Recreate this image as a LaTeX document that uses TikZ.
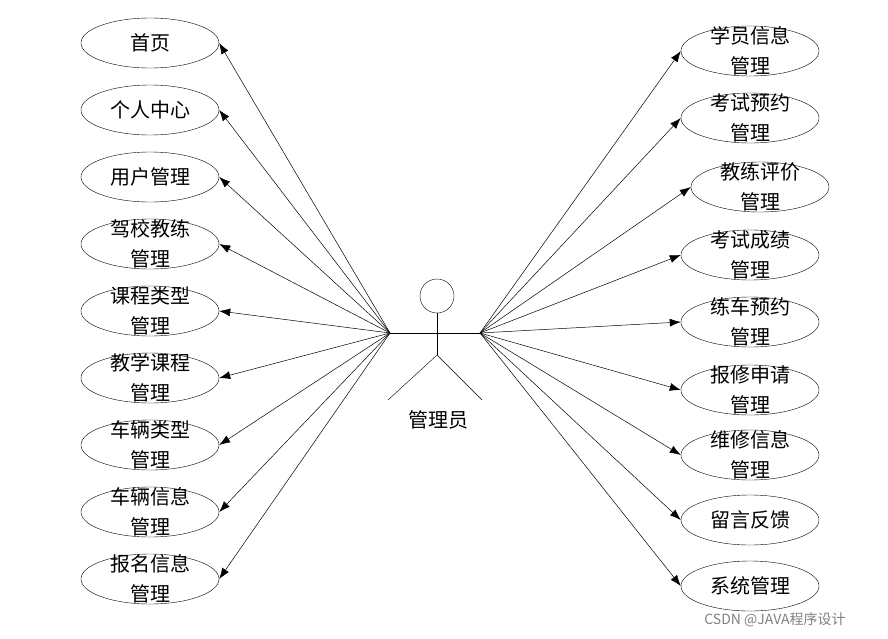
\documentclass[tikz,border=0pt]{standalone}
\usepackage{fontspec}
\newfontfamily\cjk{Noto Sans CJK SC}
\usetikzlibrary{shapes.geometric,arrows.meta}
\tikzset{
  usecase/.style={draw, ellipse, minimum width=138pt, minimum height=50pt, inner sep=0pt},
  uctext/.style={align=center, font=\cjk\fontsize{20pt}{30pt}\selectfont, inner sep=0pt},
  link/.style={-{Latex[length=11pt,width=8pt]}, line width=0.5pt}
}
\begin{document}
\begin{tikzpicture}[x=1pt,y=-1pt]
		\useasboundingbox (0,0) rectangle (888,638);
		
		%Actor
		\draw (437,296) circle (17);
		\draw (437,313) -- (437,355);
		\draw (390,333) -- (480,333);
		\draw (437,355) -- (388,400);
		\draw (437,355) -- (482,400);
		\coordinate (LeftHand) at (390,333);
		\coordinate (RightHand) at (480,333);
		\node (Admin) at (438,420) [uctext]{管理员};
		
		%Left use cases
		\foreach \name/\txt [count=\i from 0] in {L0/首页, L1/个人中心, L2/用户管理,
		  L3/驾校教练\\管理, L4/课程类型\\管理, L5/教学课程\\管理, L6/车辆类型\\管理,
		  L7/车辆信息\\管理, L8/报名信息\\管理}{
		  \node (\name) at (150,43+67*\i) [usecase]{};
		  \node at (\name) [uctext]{\txt};
		  \draw[link] (LeftHand) -- (\name.east);
		}
		
		%Right use cases
		\foreach \name/\txt/\xx/\yy in {R0/学员信息\\管理/750/51, R1/考试预约\\管理/750/118,
		  R2/教练评价\\管理/760/187, R3/考试成绩\\管理/750/255, R4/练车预约\\管理/750/322,
		  R5/报修申请\\管理/750/390, R6/维修信息\\管理/750/455, R7/留言反馈/750/520,
		  R8/系统管理/750/586}{
		  \node (\name) at (\xx,\yy) [usecase]{};
		  \node at (\name) [uctext]{\txt};
		  \draw[link] (RightHand) -- (\name.west);
		}
		
		%Watermark
		\node (Mark) at (775,620) [font=\cjk\fontsize{14pt}{16pt}\selectfont, text=gray]{CSDN @JAVA程序设计};
		
\end{tikzpicture}
\end{document}
